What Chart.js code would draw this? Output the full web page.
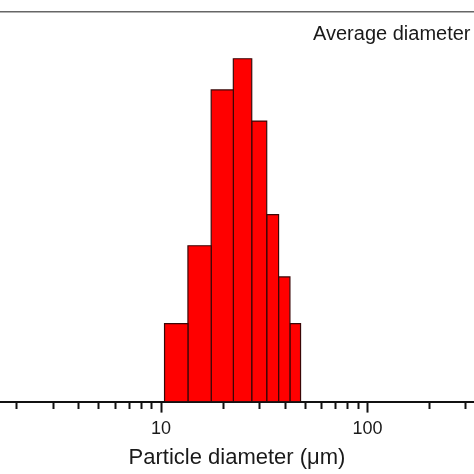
<!DOCTYPE html>
<html>
<head>
<meta charset="utf-8">
<script src="https://cdn.jsdelivr.net/npm/chart.js@4.4.0/dist/chart.umd.min.js"></script>
<style>
  html, body { margin: 0; padding: 0; background: #fff; }
  #wrap { width: 474px; height: 474px; }
</style>
</head>
<body>
<div id="wrap"><canvas id="sizeChart"></canvas></div>
<script>
// histogram bins (particle diameter, um) and share of particles (%)
const binEdges = [10.4, 13.5, 17.5, 22.4, 27.5, 32.5, 37.1, 42.1, 47.4];
const percent = [5, 10, 20, 22, 18, 12, 8, 5];

// log axis ticks, only decades get a label
const tickValues = [2, 3, 4, 5, 6, 7, 8, 9, 10, 20, 30, 40, 50, 60, 70, 80, 90, 100, 200, 300];
const tickLabels = [10, 100];

const FONT = 'Arial, "Liberation Sans", sans-serif';

// every bin is its own closed outline, filled down to zero
const datasets = percent.map((p, i) => ({
  data: [
    { x: binEdges[i], y: 0 },
    { x: binEdges[i], y: p },
    { x: binEdges[i + 1], y: p },
    { x: binEdges[i + 1], y: 0 }
  ],
  fill: 'origin',
  backgroundColor: '#ff0000',
  borderColor: '#3a0606',
  borderWidth: 1.2,
  pointRadius: 0,
  tension: 0
}));

const noteText = {
  id: 'noteText',
  afterDraw(chart) {
    const ctx = chart.ctx;
    ctx.save();
    ctx.font = '20px ' + FONT;
    ctx.fillStyle = '#1a1a1a';
    ctx.textAlign = 'left';
    ctx.textBaseline = 'middle';
    ctx.fillText('Average diameter', 313, 34);
    ctx.restore();
  }
};

new Chart(document.getElementById('sizeChart'), {
  type: 'line',
  data: { datasets: datasets },
  plugins: [noteText],
  options: {
    responsive: true,
    maintainAspectRatio: false,
    animation: false,
    layout: { padding: { top: 12, left: 0, right: 0, bottom: 0 } },
    plugins: {
      legend: { display: false },
      tooltip: { enabled: false }
    },
    scales: {
      x: {
        type: 'logarithmic',
        position: 'bottom',
        min: 1.66,
        max: 328,
        afterBuildTicks: (scale) => {
          scale.ticks = tickValues.map(v => ({ value: v, major: tickLabels.includes(v) }));
        },
        ticks: {
          autoSkip: false,
          maxRotation: 0,
          padding: 7,
          color: '#1a1a1a',
          font: { family: FONT, size: 18, lineHeight: 1.0 },
          callback: (value) => tickLabels.includes(value) ? String(value) : ''
        },
        grid: {
          drawOnChartArea: false,
          drawTicks: true,
          tickLength: 11,
          tickWidth: 2,
          tickColor: '#111',
          tickBorderDash: (c) => (c.tick && tickLabels.includes(c.tick.value)) ? [] : [6, 100]
        },
        border: { display: true, color: '#111', width: 2 },
        title: {
          display: true,
          text: 'Particle diameter (μm)',
          color: '#1a1a1a',
          font: { family: FONT, size: 22 },
          padding: { top: 0, bottom: 3 }
        }
      },
      x2: {
        type: 'linear',
        position: 'top',
        min: 0,
        max: 1,
        ticks: { display: false },
        grid: { display: true, drawOnChartArea: false, drawTicks: false },
        border: { display: true, color: '#666', width: 1.5 }
      },
      y: {
        display: false,
        min: 0,
        max: 25
      }
    }
  }
});
</script>
</body>
</html>
